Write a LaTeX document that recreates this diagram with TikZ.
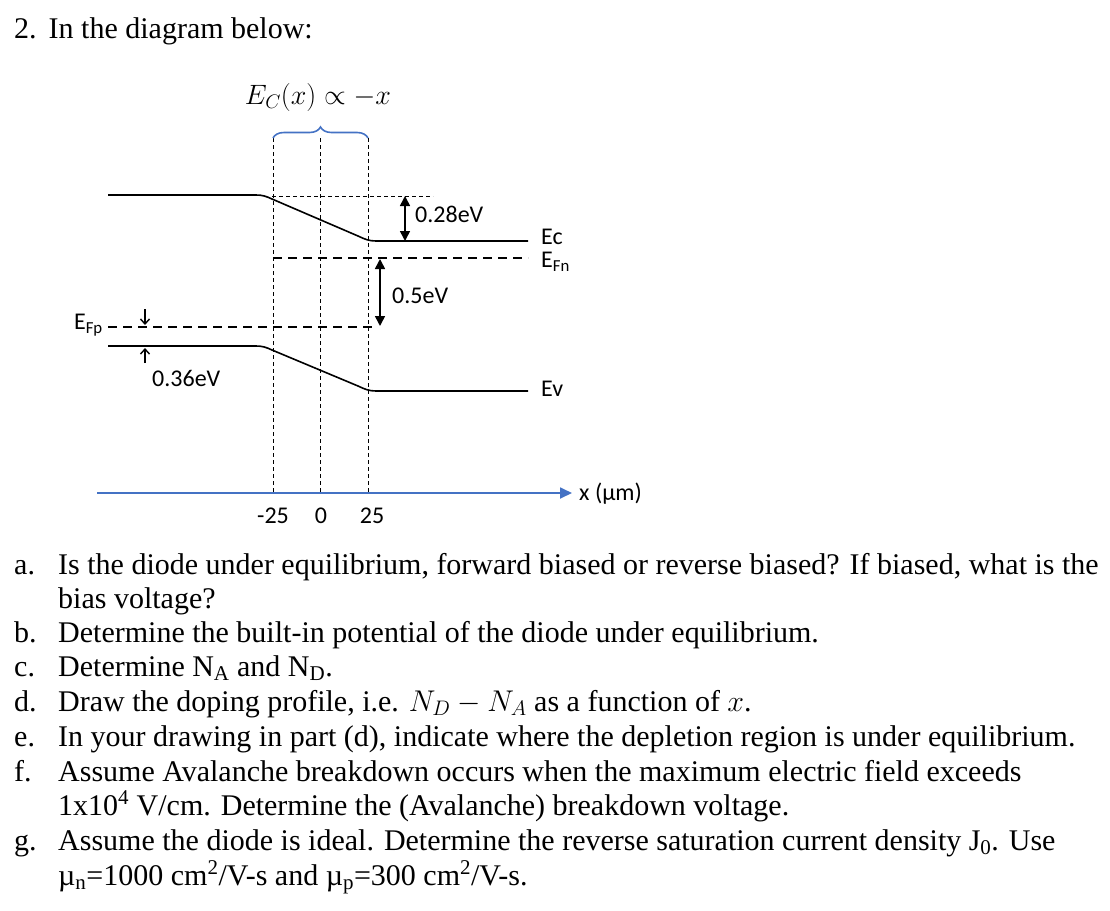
\documentclass[tikz,border=0pt]{standalone}
\usepackage{fix-cm}
\usepackage{fontspec}
\usepackage{amsmath}
\setmainfont{Liberation Serif}
\newfontfamily\dgfont{Carlito}
\usetikzlibrary{arrows.meta,decorations.pathreplacing}
\definecolor{axblue}{RGB}{68,114,196}
\tikzset{
  band/.style={line width=1.6pt},
  guide/.style={line width=0.7pt, dash pattern=on 4pt off 3pt},
  level/.style={line width=1.6pt, dash pattern=on 9pt off 6pt},
  dim/.style={line width=1.6pt, {Triangle[width=10pt,length=10pt]}-{Triangle[width=10pt,length=10pt]}},
  lbl/.style={font=\dgfont\fontsize{24}{26}\selectfont, inner sep=1pt},
  txt/.style={font=\fontsize{30}{32}\selectfont, anchor=base west, inner sep=0pt},
}
\begin{document}
\begin{tikzpicture}[x=1pt,y=-1pt]
\useasboundingbox (0,0) rectangle (1110,910);
% header
\node[txt] (hdr) at (14,38) {2.\hspace{12pt}In the diagram below:};
% guides
\foreach \n/\x in {ga/273,gb/320,gc/368}{
  \coordinate (\n t) at (\x,138); \coordinate (\n b) at (\x,492);
  \draw[guide] (\n t) -- (\n b);}
\coordinate (dt1) at (272,196); \coordinate (dt2) at (433,196);
\draw[guide] (dt1) -- (dt2);
% brace
\coordinate (br1) at (273,138); \coordinate (br2) at (368,138);
\draw[axblue, line width=1.6pt, decorate, decoration={brace, amplitude=11pt}] (br1) -- (br2);
\node[font=\fontsize{28}{30}\selectfont] (eclab) at (318,97) {$E_C(x) \propto -x$};
% Ec
\draw[band] (108,195) -- (256,195) to[out=0,in=155] (272,199) -- (358,236) to[out=-25,in=180] (376,241) -- (528,241);
% Ev
\draw[band] (108,346) -- (256,346) to[out=0,in=155] (272,350) -- (358,386) to[out=-25,in=180] (376,391) -- (528,391);
% levels
\coordinate (fn1) at (273,258); \coordinate (fn2) at (528,258);
\draw[level] (fn1) -- (fn2);
\coordinate (fp1) at (108,327); \coordinate (fp2) at (372,327);
\draw[level] (fp1) -- (fp2);
% dims
\coordinate (a1) at (405,196); \coordinate (a2) at (405,241);
\draw[dim] (a1) -- (a2);
\node[lbl, anchor=west] (l28) at (414,214) {0.28eV};
\coordinate (b1) at (380,259); \coordinate (b2) at (380,326);
\draw[dim] (b1) -- (b2);
\node[lbl, anchor=west] (l5) at (391,296) {0.5eV};
\coordinate (c1) at (145,309); \coordinate (c2) at (145,325);
\draw[line width=1.4pt, -{Straight Barb[length=5pt,width=9pt]}] (c1) -- (c2);
\coordinate (d1) at (145,363); \coordinate (d2) at (145,348);
\draw[line width=1.4pt, -{Straight Barb[length=5pt,width=9pt]}] (d1) -- (d2);
\node[lbl, anchor=west] (l36) at (151,378) {0.36eV};
% labels
\node[lbl, anchor=west] (ec) at (540,237) {Ec};
\node[lbl, anchor=west] (efn) at (540,262) {E\textsubscript{Fn}};
\node[lbl, anchor=east] (efp) at (104,325) {E\textsubscript{Fp}};
\node[lbl, anchor=west] (ev) at (540,389) {Ev};
% axis
\coordinate (x1) at (97,493); \coordinate (x2) at (572,493);
\draw[axblue, line width=1.8pt, -{Triangle[width=11pt,length=12pt]}] (x1) -- (x2);
\node[lbl, anchor=west] (xl) at (578,494) {x (µm)};
\node[lbl] (t1) at (273,516) {-25};
\node[lbl] (t2) at (321,516) {0};
\node[lbl] (t3) at (372,516) {25};
% questions
\foreach \n/\y/\l/\t in {
 qa/574/a./{Is the diode under equilibrium, forward biased or reverse biased? If biased, what is the},
 qa2/608//{bias voltage?},
 qb/642/b./{Determine the built-in potential of the diode under equilibrium.},
 qc/676/c./{Determine N\textsubscript{A} and N\textsubscript{D}.},
 qd/711/d./{Draw the doping profile, i.e. $N_D - N_A$ as a function of $x$.},
 qe/746/e./{In your drawing in part (d), indicate where the depletion region is under equilibrium.},
 qf/781/f./{Assume Avalanche breakdown occurs when the maximum electric field exceeds},
 qf2/815//{1x10\textsuperscript{4} V/cm. Determine the (Avalanche) breakdown voltage.},
 qg/850/g./{Assume the diode is ideal. Determine the reverse saturation current density J\textsubscript{0}. Use},
 qg2/885//{µ\textsubscript{n}=1000 cm\textsuperscript{2}/V-s and µ\textsubscript{p}=300 cm\textsuperscript{2}/V-s.}}{
  \node[txt] (\n l) at (14,\y) {\l};
  \node[txt] (\n) at (58,\y) {\t};}
\end{tikzpicture}
\end{document}
